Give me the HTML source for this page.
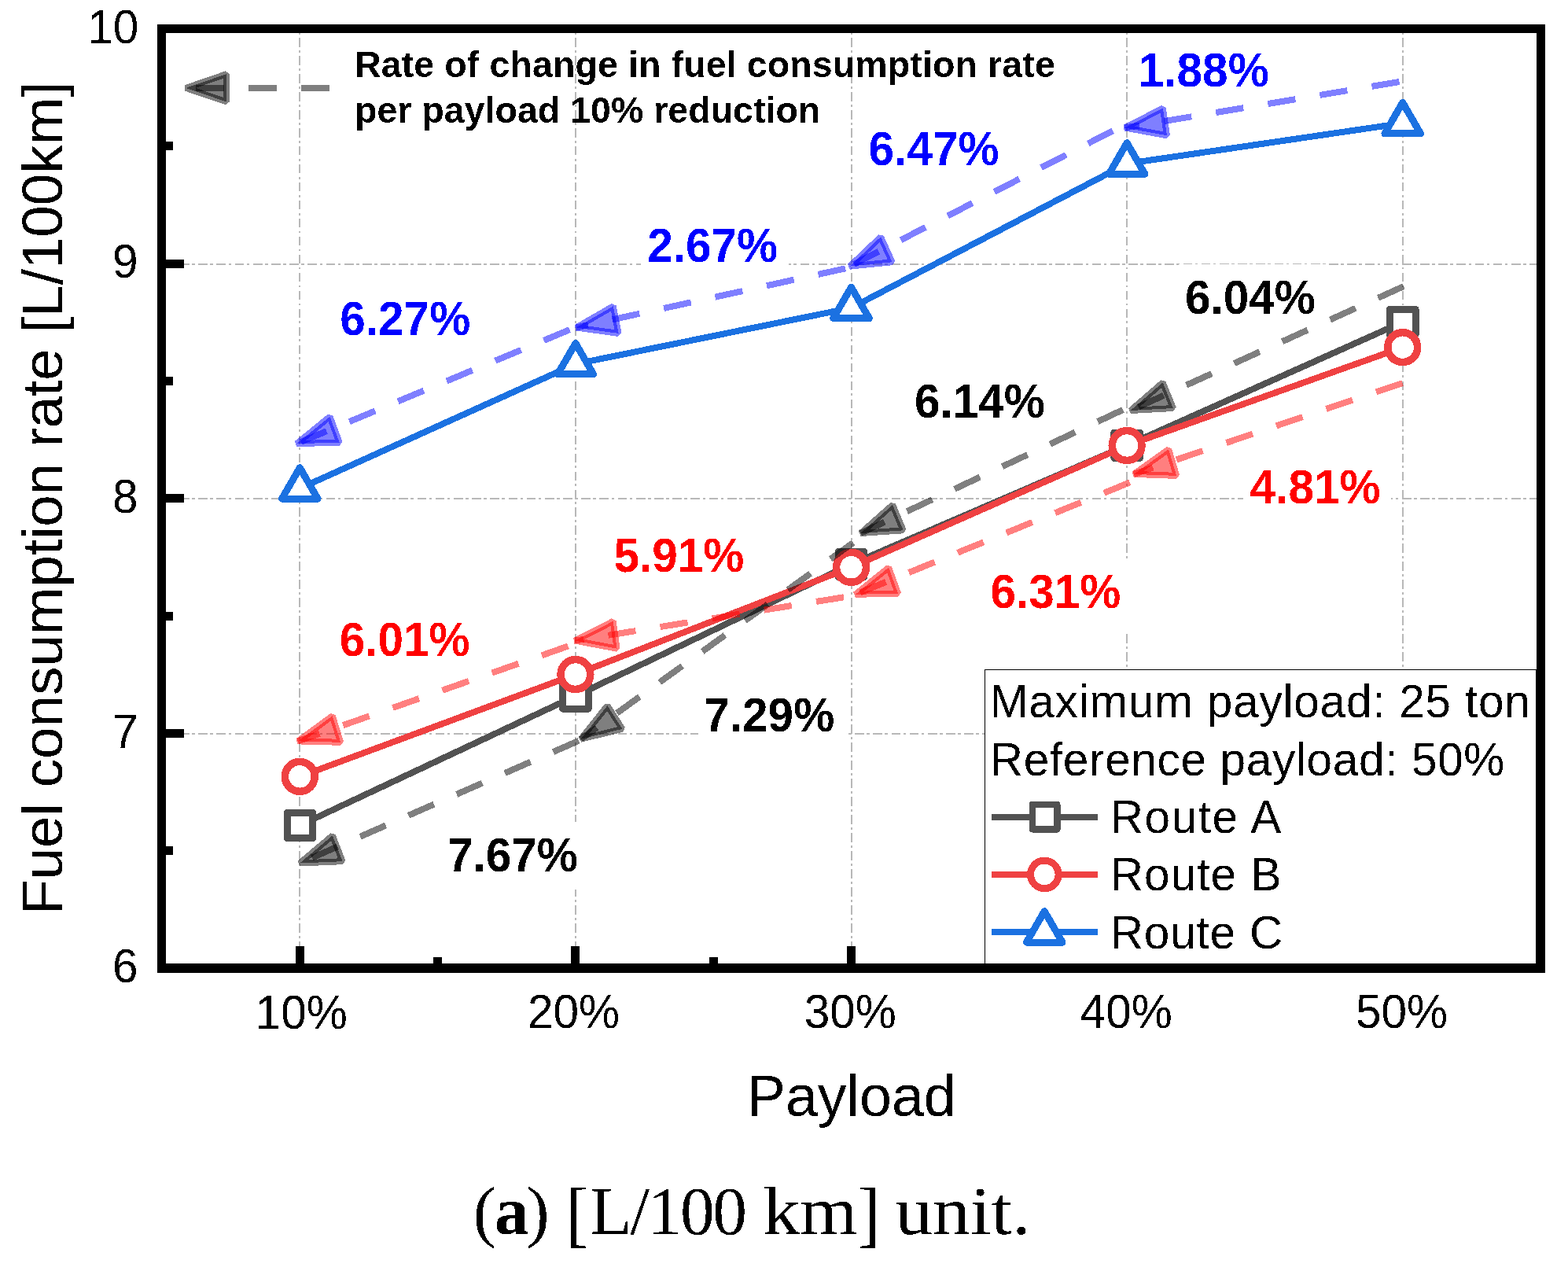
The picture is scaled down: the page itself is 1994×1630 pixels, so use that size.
<!DOCTYPE html>
<html><head><meta charset="utf-8"><title>Fuel consumption rate chart</title>
<style>html,body{margin:0;padding:0;background:#fff;}svg{display:block;}</style>
</head><body>
<svg width="1994" height="1630" viewBox="0 0 1994 1630" font-family="'Liberation Sans', Arial, sans-serif" shape-rendering="crispEdges">
<defs><filter id="crisp" color-interpolation-filters="sRGB"><feComponentTransfer><feFuncA type="discrete" tableValues="0 1"/></feComponentTransfer></filter></defs>
<rect width="1994" height="1630" fill="#fff"/>
<g stroke="#b8b8b8" stroke-width="2" stroke-dasharray="11.6 3.6 3.6 4.2" fill="none">
<line x1="381" y1="1231.6" x2="381" y2="36.5" stroke-dasharray="11.6 4.3 2.9 4.18"/>
<line x1="732" y1="1231.6" x2="732" y2="36.5" stroke-dasharray="11.6 4.3 2.9 4.18"/>
<line x1="1083" y1="1231.6" x2="1083" y2="36.5" stroke-dasharray="11.6 4.3 2.9 4.18"/>
<line x1="1433" y1="1231.6" x2="1433" y2="36.5" stroke-dasharray="11.6 4.3 2.9 4.18"/>
<line x1="1784" y1="1231.6" x2="1784" y2="36.5" stroke-dasharray="11.6 4.3 2.9 4.18"/>
<line x1="205.92" y1="336" x2="1959" y2="336" stroke-dasharray="11.7 3.4 3.6 4.49"/>
<line x1="205.92" y1="634" x2="1959" y2="634" stroke-dasharray="11.7 3.4 3.6 4.49"/>
<line x1="205.92" y1="933" x2="1959" y2="933" stroke-dasharray="11.7 3.4 3.6 4.49"/>
</g>
<g>
<rect x="1441.8" y="46.5" width="188.0" height="90.0" fill="#fff"/>
<rect x="1096.6" y="146.7" width="188.0" height="90.0" fill="#fff"/>
<rect x="815.2" y="270.5" width="188.0" height="90.0" fill="#fff"/>
<rect x="424.3" y="363.2" width="188.0" height="90.0" fill="#fff"/>
<rect x="1499.0" y="336.0" width="188.0" height="90.0" fill="#fff"/>
<rect x="1155.0" y="468.1" width="188.0" height="90.0" fill="#fff"/>
<rect x="1580.6" y="576.7" width="188.0" height="90.0" fill="#fff"/>
<rect x="772.5" y="664.3" width="188.0" height="90.0" fill="#fff"/>
<rect x="1251.5" y="711.0" width="188.0" height="92.0" fill="#fff"/>
<rect x="423.7" y="771.4" width="188.0" height="90.0" fill="#fff"/>
<rect x="888.3" y="866.6" width="188.0" height="90.0" fill="#fff"/>
<rect x="562.0" y="1045.0" width="188.0" height="86.0" fill="#fff"/>
</g>
<g>
<polyline points="381.3,1049.4 731.9,884.9 1082.5,717.4 1433.1,566.3 1783.7,409.5" fill="none" stroke="#525252" stroke-width="8" stroke-linejoin="round"/>
<rect x="365.1" y="1033.2" width="32.5" height="32.5" fill="#fff" stroke="#525252" stroke-width="9" stroke-linejoin="round"/>
<rect x="715.7" y="868.6" width="32.5" height="32.5" fill="#fff" stroke="#525252" stroke-width="9" stroke-linejoin="round"/>
<rect x="1066.2" y="701.1" width="32.5" height="32.5" fill="#fff" stroke="#525252" stroke-width="9" stroke-linejoin="round"/>
<rect x="1416.9" y="550.0" width="32.5" height="32.5" fill="#fff" stroke="#525252" stroke-width="9" stroke-linejoin="round"/>
<rect x="1767.5" y="393.2" width="32.5" height="32.5" fill="#fff" stroke="#525252" stroke-width="9" stroke-linejoin="round"/>
<polyline points="381.3,987.4 731.9,857.5 1082.5,721.3 1433.1,566.5 1783.7,441.6" fill="none" stroke="#ef4142" stroke-width="8" stroke-linejoin="round"/>
<circle cx="381.3" cy="987.4" r="18.9" fill="#fff" stroke="#ef4142" stroke-width="9.5"/>
<circle cx="731.9" cy="857.5" r="18.9" fill="#fff" stroke="#ef4142" stroke-width="9.5"/>
<circle cx="1082.5" cy="721.3" r="18.9" fill="#fff" stroke="#ef4142" stroke-width="9.5"/>
<circle cx="1433.1" cy="566.5" r="18.9" fill="#fff" stroke="#ef4142" stroke-width="9.5"/>
<circle cx="1783.7" cy="441.6" r="18.9" fill="#fff" stroke="#ef4142" stroke-width="9.5"/>
<polyline points="381.3,621.0 731.9,462.8 1082.5,391.5 1433.1,208.0 1783.7,156.7" fill="none" stroke="#1b71e1" stroke-width="8" stroke-linejoin="round"/>
<polygon points="381.3,594.7 404.1,634.1 358.5,634.1" fill="#fff" stroke="#1b71e1" stroke-width="9" stroke-linejoin="round"/>
<polygon points="731.9,436.5 754.7,475.9 709.1,475.9" fill="#fff" stroke="#1b71e1" stroke-width="9" stroke-linejoin="round"/>
<polygon points="1082.5,365.2 1105.3,404.6 1059.7,404.6" fill="#fff" stroke="#1b71e1" stroke-width="9" stroke-linejoin="round"/>
<polygon points="1433.1,181.7 1455.9,221.2 1410.3,221.2" fill="#fff" stroke="#1b71e1" stroke-width="9" stroke-linejoin="round"/>
<polygon points="1783.7,130.4 1806.5,169.8 1760.9,169.8" fill="#fff" stroke="#1b71e1" stroke-width="9" stroke-linejoin="round"/>
</g>
<g>

</g>
<g>
<line x1="1784.9" y1="364.1" x2="1437.6" y2="522.0" stroke="#000" stroke-opacity="0.5" stroke-width="8" stroke-dasharray="35.5 31.5" stroke-dashoffset="0"/>
<polygon points="1437.6,522.0 1478.7,486.4 1491.9,519.0" fill="#000" fill-opacity="0.5" stroke="#000" stroke-opacity="0.5" stroke-width="8" stroke-linejoin="bevel"/>
<line x1="1428.0" y1="521.0" x2="1094.4" y2="678.0" stroke="#000" stroke-opacity="0.5" stroke-width="8" stroke-dasharray="35.5 31.5" stroke-dashoffset="0"/>
<polygon points="1094.4,678.0 1135.1,641.9 1148.7,674.3" fill="#000" fill-opacity="0.5" stroke="#000" stroke-opacity="0.5" stroke-width="8" stroke-linejoin="bevel"/>
<line x1="1085.0" y1="690.0" x2="738.6" y2="939.8" stroke="#000" stroke-opacity="0.5" stroke-width="8" stroke-dasharray="35.5 31.5" stroke-dashoffset="0"/>
<polygon points="738.6,939.8 772.4,897.2 791.4,926.8" fill="#000" fill-opacity="0.5" stroke="#000" stroke-opacity="0.5" stroke-width="8" stroke-linejoin="bevel"/>
<line x1="736.0" y1="941.8" x2="381.2" y2="1097.5" stroke="#000" stroke-opacity="0.5" stroke-width="8" stroke-dasharray="35.5 31.5" stroke-dashoffset="0"/>
<polygon points="381.2,1097.5 422.8,1062.4 435.6,1095.2" fill="#000" fill-opacity="0.5" stroke="#000" stroke-opacity="0.5" stroke-width="8" stroke-linejoin="bevel"/>
<line x1="1783.5" y1="487.1" x2="1441.8" y2="602.9" stroke="#ff0000" stroke-opacity="0.5" stroke-width="8" stroke-dasharray="35.5 31.5" stroke-dashoffset="0"/>
<polygon points="1441.8,602.9 1486.1,571.2 1496.2,604.9" fill="#ff0000" fill-opacity="0.5" stroke="#ff0000" stroke-opacity="0.5" stroke-width="8" stroke-linejoin="bevel"/>
<line x1="1436.8" y1="613.4" x2="1087.7" y2="755.8" stroke="#ff0000" stroke-opacity="0.5" stroke-width="8" stroke-dasharray="35.5 31.5" stroke-dashoffset="0"/>
<polygon points="1087.7,755.8 1130.1,721.6 1142.1,754.7" fill="#ff0000" fill-opacity="0.5" stroke="#ff0000" stroke-opacity="0.5" stroke-width="8" stroke-linejoin="bevel"/>
<line x1="1073.0" y1="759.3" x2="731.1" y2="814.6" stroke="#ff0000" stroke-opacity="0.5" stroke-width="8" stroke-dasharray="35.5 31.5" stroke-dashoffset="0"/>
<polygon points="731.1,814.6 779.6,789.9 784.6,824.7" fill="#ff0000" fill-opacity="0.5" stroke="#ff0000" stroke-opacity="0.5" stroke-width="8" stroke-linejoin="bevel"/>
<line x1="722.5" y1="821.5" x2="378.8" y2="942.4" stroke="#ff0000" stroke-opacity="0.5" stroke-width="8" stroke-dasharray="35.5 31.5" stroke-dashoffset="0"/>
<polygon points="378.8,942.4 422.7,910.2 433.2,943.8" fill="#ff0000" fill-opacity="0.5" stroke="#ff0000" stroke-opacity="0.5" stroke-width="8" stroke-linejoin="bevel"/>
<line x1="1779.5" y1="104.0" x2="1430.5" y2="162.5" stroke="#0000ff" stroke-opacity="0.5" stroke-width="8" stroke-dasharray="35.5 31.5" stroke-dashoffset="0"/>
<polygon points="1430.5,162.5 1478.8,137.5 1484.0,172.3" fill="#0000ff" fill-opacity="0.5" stroke="#0000ff" stroke-opacity="0.5" stroke-width="8" stroke-linejoin="bevel"/>
<line x1="1415.3" y1="166.2" x2="1080.5" y2="338.7" stroke="#0000ff" stroke-opacity="0.5" stroke-width="8" stroke-dasharray="35.5 31.5" stroke-dashoffset="0"/>
<polygon points="1080.5,338.7 1120.0,301.2 1134.6,333.2" fill="#0000ff" fill-opacity="0.5" stroke="#0000ff" stroke-opacity="0.5" stroke-width="8" stroke-linejoin="bevel"/>
<line x1="1075.1" y1="341.3" x2="732.7" y2="416.5" stroke="#0000ff" stroke-opacity="0.5" stroke-width="8" stroke-dasharray="35.5 31.5" stroke-dashoffset="0"/>
<polygon points="732.7,416.5 779.8,389.3 786.6,423.9" fill="#0000ff" fill-opacity="0.5" stroke="#0000ff" stroke-opacity="0.5" stroke-width="8" stroke-linejoin="bevel"/>
<line x1="724.4" y1="419.2" x2="377.3" y2="564.1" stroke="#0000ff" stroke-opacity="0.5" stroke-width="8" stroke-dasharray="35.5 31.5" stroke-dashoffset="0"/>
<polygon points="377.3,564.1 419.5,529.7 431.7,562.7" fill="#0000ff" fill-opacity="0.5" stroke="#0000ff" stroke-opacity="0.5" stroke-width="8" stroke-linejoin="bevel"/>
<line x1="419.0" y1="111.7" x2="236.4" y2="111.9" stroke="#000" stroke-opacity="0.5" stroke-width="8" stroke-dasharray="35.5 31.5" stroke-dashoffset="0"/>
<polygon points="236.4,111.9 287.9,94.2 287.9,129.4" fill="#000" fill-opacity="0.5" stroke="#000" stroke-opacity="0.5" stroke-width="8" stroke-linejoin="bevel"/>
</g>
<g>
<rect x="375.8" y="1203" width="11" height="22" fill="#000"/>
<rect x="726.4" y="1203" width="11" height="22" fill="#000"/>
<rect x="1077.0" y="1203" width="11" height="22" fill="#000"/>
<rect x="1427.6" y="1203" width="11" height="22" fill="#000"/>
<rect x="1778.2" y="1203" width="11" height="22" fill="#000"/>
<rect x="551.1" y="1217" width="11" height="8" fill="#000"/>
<rect x="901.7" y="1217" width="11" height="8" fill="#000"/>
<rect x="1252.3" y="1217" width="11" height="8" fill="#000"/>
<rect x="1602.9" y="1217" width="11" height="8" fill="#000"/>
<rect x="211" y="926.9" width="23" height="11" fill="#000"/>
<rect x="211" y="628.2" width="23" height="11" fill="#000"/>
<rect x="211" y="329.6" width="23" height="11" fill="#000"/>
<rect x="211" y="1076.2" width="9" height="11" fill="#000"/>
<rect x="211" y="777.6" width="9" height="11" fill="#000"/>
<rect x="211" y="478.9" width="9" height="11" fill="#000"/>
<rect x="211" y="180.3" width="9" height="11" fill="#000"/>
</g>
<g>
<rect x="1252.5" y="851.5" width="701" height="380" fill="#fff" stroke="#000" stroke-width="1.6"/>
<line x1="1261" y1="1038.8" x2="1396" y2="1038.8" stroke="#525252" stroke-width="8.2"/>
<line x1="1261" y1="1111.8" x2="1396" y2="1111.8" stroke="#ef4142" stroke-width="8.2"/>
<line x1="1261" y1="1185" x2="1396" y2="1185" stroke="#1b71e1" stroke-width="8.2"/>
<rect x="1312.8" y="1022.8" width="31.5" height="31.5" fill="#fff" stroke="#525252" stroke-width="8.5" stroke-linejoin="round"/>
<circle cx="1328.3" cy="1111.9" r="17.8" fill="#fff" stroke="#ef4142" stroke-width="9"/>
<polygon points="1328.2,1158.6 1351.0,1198.1 1305.4,1198.1" fill="#fff" stroke="#1b71e1" stroke-width="9" stroke-linejoin="round"/>
</g>
<g>
<rect x="200" y="31" width="11" height="1206" fill="#000"/>
<rect x="200" y="31" width="1765" height="11" fill="#000"/>
<rect x="1954" y="31" width="11" height="1206" fill="#000"/>
<rect x="200" y="1225" width="1765" height="12" fill="#000"/>
</g>
<g fill="#000" filter="url(#crisp)">
<text transform="translate(324.8,1307.5) scale(1,1.04)" font-size="58.5">10%</text>
<text transform="translate(670.9,1307.5) scale(1,1.04)" font-size="58.5">20%</text>
<text transform="translate(1022.8,1307.5) scale(1,1.04)" font-size="58.5">30%</text>
<text transform="translate(1373.6,1307.5) scale(1,1.04)" font-size="58.5">40%</text>
<text transform="translate(1723.9,1307.5) scale(1,1.04)" font-size="58.5">50%</text>
<text transform="translate(111.3,54.8) scale(1,1.04)" font-size="58.5">10</text>
<text transform="translate(143,353.4) scale(1,1.04)" font-size="58.5">9</text>
<text transform="translate(143,652.0) scale(1,1.04)" font-size="58.5">8</text>
<text transform="translate(143,950.7) scale(1,1.04)" font-size="58.5">7</text>
<text transform="translate(143,1249.3) scale(1,1.04)" font-size="58.5">6</text>
<text transform="translate(79,1163) rotate(-90)" x="0" y="0" font-size="72.75">Fuel consumption rate [L/100km]</text>
<text x="949.8" y="1419.2" font-size="73.6">Payload</text>
<text x="601.8" y="1569.4" font-size="87.5" font-family="'Liberation Serif', 'Times New Roman', serif">(</text>
<text x="628.8" y="1569.4" font-size="87.5" font-family="'Liberation Serif', 'Times New Roman', serif" font-weight="bold">a</text>
<text x="669.6" y="1569.4" font-size="87.5" font-family="'Liberation Serif', 'Times New Roman', serif">)</text>
<text transform="translate(719.4,1574.6) scale(1,1.07)" font-size="87.5" font-family="'Liberation Serif', 'Times New Roman', serif">[</text>
<text x="750.3" y="1569.4" font-size="87.5" font-family="'Liberation Serif', 'Times New Roman', serif" letter-spacing="-2.3">L/100</text>
<text transform="translate(970.25,1569.4) scale(1.077,1)" font-size="87.5" font-family="'Liberation Serif', 'Times New Roman', serif">km</text>
<text transform="translate(1090.4,1574.6) scale(1,1.07)" font-size="87.5" font-family="'Liberation Serif', 'Times New Roman', serif">]</text>
<text transform="translate(1138.6,1569.4) scale(1.0907,1)" font-size="87.5" font-family="'Liberation Serif', 'Times New Roman', serif">unit.</text>
<text x="451" y="98" font-size="46.5" letter-spacing="0.12" font-weight="bold">Rate of change in fuel consumption rate</text>
<text x="451" y="155.8" font-size="46.5" letter-spacing="0.02" font-weight="bold">per payload 10% reduction</text>
<text transform="translate(1447.8,109.5) scale(1,1.04)" font-size="58.5" font-weight="bold" fill="#0000ff">1.88%</text>
<text transform="translate(1104.6,209.7) scale(1,1.04)" font-size="58.5" font-weight="bold" fill="#0000ff">6.47%</text>
<text transform="translate(823.2,333.5) scale(1,1.04)" font-size="58.5" font-weight="bold" fill="#0000ff">2.67%</text>
<text transform="translate(432.3,426.2) scale(1,1.04)" font-size="58.5" font-weight="bold" fill="#0000ff">6.27%</text>
<text transform="translate(1507.0,399.0) scale(1,1.04)" font-size="58.5" font-weight="bold" fill="#000000">6.04%</text>
<text transform="translate(1163.0,531.1) scale(1,1.04)" font-size="58.5" font-weight="bold" fill="#000000">6.14%</text>
<text transform="translate(1589.6,639.7) scale(1,1.04)" font-size="58.5" font-weight="bold" fill="#ff0000">4.81%</text>
<text transform="translate(780.5,727.3) scale(1,1.04)" font-size="58.5" font-weight="bold" fill="#ff0000">5.91%</text>
<text transform="translate(1259.5,772.6) scale(1,1.04)" font-size="58.5" font-weight="bold" fill="#ff0000">6.31%</text>
<text transform="translate(431.7,834.4) scale(1,1.04)" font-size="58.5" font-weight="bold" fill="#ff0000">6.01%</text>
<text transform="translate(895.3,929.6) scale(1,1.04)" font-size="58.5" font-weight="bold" fill="#000000">7.29%</text>
<text transform="translate(569.0,1108.3) scale(1,1.04)" font-size="58.5" font-weight="bold" fill="#000000">7.67%</text>
<text transform="translate(1258.8,912.1) scale(1,1.025)" font-size="58.5" letter-spacing="0.79">Maximum payload: 25 ton</text>
<text transform="translate(1258.8,986.4) scale(1,1.025)" font-size="58.5" letter-spacing="0.67">Reference payload: 50%</text>
<text transform="translate(1411.8,1058.9) scale(1,1.025)" font-size="58.5" letter-spacing="1.55">Route A</text>
<text transform="translate(1411.8,1131.9) scale(1,1.025)" font-size="58.5" letter-spacing="1.07">Route B</text>
<text transform="translate(1411.8,1206) scale(1,1.025)" font-size="58.5" letter-spacing="0.8">Route C</text>
</g>
</svg>
</body></html>
